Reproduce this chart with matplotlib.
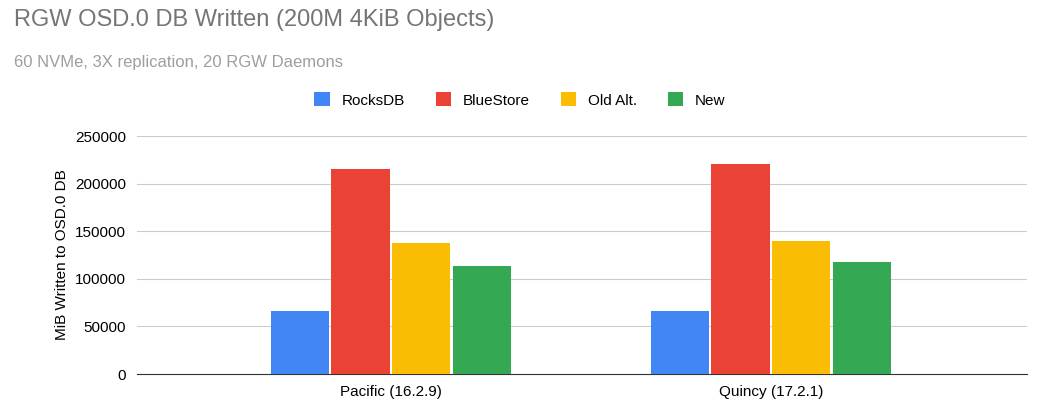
import matplotlib.pyplot as plt
import numpy as np

plt.rcParams['font.family'] = ['Liberation Sans', 'DejaVu Sans']

categories = ["Pacific (16.2.9)", "Quincy (17.2.1)"]
series = ["RocksDB", "BlueStore", "Old Alt.", "New"]
values = {
    "RocksDB": [66000, 66000],
    "BlueStore": [215000, 221000],
    "Old Alt.": [138000, 140000],
    "New": [113000, 118000],
}
colors = ["#4285f4", "#ea4335", "#fbbc04", "#34a853"]

fig = plt.figure(figsize=(10.45, 4.2), dpi=100)
ax = fig.add_axes([137 / 1045, 1 - 374 / 420, 890 / 1045, 238 / 420])

x = np.arange(len(categories))
step = 0.16
width = 0.153
for i, name in enumerate(series):
    ax.bar(x + (i - 1.5) * step, values[name], width, color=colors[i], label=name, zorder=3)

ax.set_xlim(-0.668, 1.674)
ax.set_ylim(0, 250000)
ax.set_yticks(range(0, 250001, 50000))
ax.set_xticks(x)
ax.set_xticklabels(categories, fontsize=11)
ax.tick_params(axis='y', labelsize=11, length=0, pad=8)
ax.tick_params(axis='x', length=0, pad=8)
ax.grid(axis='y', color='#cccccc', linewidth=0.8, zorder=0)
for s in ['top', 'right', 'left']:
    ax.spines[s].set_visible(False)
ax.spines['bottom'].set_color('#333333')
ax.set_ylabel("MiB Written to OSD.0 DB", fontsize=11)

fig.text(14 / 1045, 1 - 20 / 420, "RGW OSD.0 DB Written (200M 4KiB Objects)", fontsize=17,
         color='#757575', va='center')
fig.text(14 / 1045, 1 - 62 / 420, "60 NVMe, 3X replication, 20 RGW Daemons", fontsize=12,
         color='#9e9e9e', va='center')
fig.legend(loc='center', bbox_to_anchor=(520 / 1045, 1 - 100 / 420), ncol=4, frameon=False,
           fontsize=11, handlelength=1.0, handleheight=1.0, columnspacing=2.0)

fig.savefig("out.png", dpi=100)
